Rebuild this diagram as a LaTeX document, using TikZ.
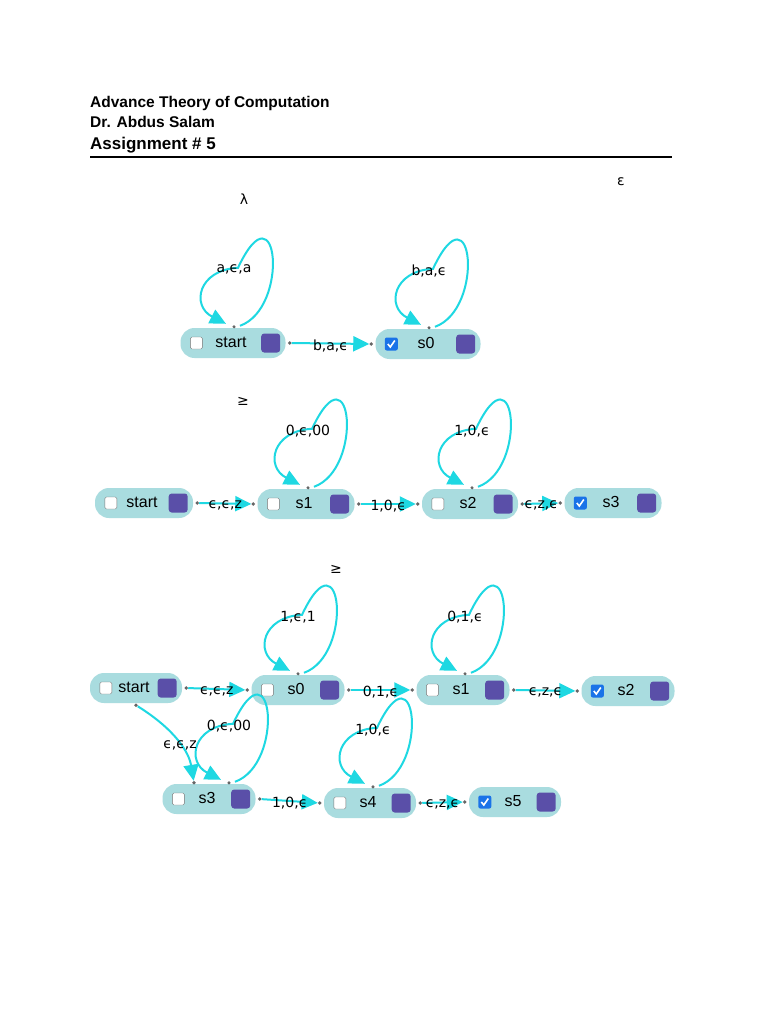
\documentclass[tikz,border=0pt]{standalone}
\usepackage{fontspec}
\setmainfont{Liberation Sans}
\newfontfamily\lblfont{DejaVu Sans}
\usetikzlibrary{arrows.meta,calc}
\definecolor{pill}{HTML}{A9DCDF}
\definecolor{purp}{HTML}{5A4FA8}
\definecolor{cy}{HTML}{1ED8E2}
\definecolor{chk}{HTML}{1A73E8}
\tikzset{
  x=1pt,y=-1pt,
  pillbox/.style={fill=pill,rounded corners=14pt,minimum height=30pt,inner sep=0pt},
  edge/.style={draw=cy,line width=2pt,-{Triangle[length=16pt,width=15pt]}},
  lbl/.style={font=\lblfont\fontsize{14}{14}\selectfont,inner sep=1pt},
  ntext/.style={font=\fontsize{16}{16}\selectfont},
  dot/.style={fill=black!60,circle,inner sep=1.3pt},
  hdr/.style={font=\bfseries\fontsize{15.5}{17}\selectfont,anchor=base west,inner sep=0pt},
}
% name, x, y, width, text, checked(0/1)
\newcommand\pnode[6]{%
  \node[pillbox,minimum width=#4] (#1) at (#2,#3) {};
  \node[ntext] (#1t) at ($(#1.center)+(-2,-1)$) {#5};
  \node[fill=purp,rounded corners=3pt,minimum size=19pt,inner sep=0pt] (#1p) at ($(#1.east)+(-15,0)$) {};
  \ifnum#6=1
    \node[fill=chk,rounded corners=2pt,minimum size=13pt,inner sep=0pt] (#1c) at ($(#1.west)+(16,0)$) {};
    \draw[white,line width=1.6pt] ($(#1c.center)+(-3.5,0)$) -- ($(#1c.center)+(-1,3)$) -- ($(#1c.center)+(3.5,-3.5)$);
  \else
    \node[fill=white,draw=black!55,rounded corners=1.5pt,minimum size=12pt,inner sep=0pt] (#1c) at ($(#1.west)+(16,0)$) {};
  \fi
}
\newcommand\loopat[3]{% node, xoff, label
  \coordinate (#1ls) at ($(#1.north)+(#2+6,-2)$);
  \coordinate (#1le) at ($(#1.north)+(#2-8,-4)$);
  \node[dot,inner sep=1.2pt] at ($(#1.north)+(#2,-1)$) {};
  \draw[edge] (#1ls) .. controls +(50,-18) and +(40,-85) .. +(-2,-58) .. controls +(-40,2) and +(-35,-18) .. (#1le);
  \node[lbl] at ($(#1.north)+(#2,-58)$) {#3};
}
\newcommand\lnk[3]{% from, to, label
  \node[dot] (#1#2a) at ($(#1.east)+(4,0)$) {};
  \node[dot] (#1#2b) at ($(#2.west)+(-4,0)$) {};
  \draw[edge] (#1#2a) -- (#1#2b) node[lbl,midway,yshift=-2pt] {#3};
}
\begin{document}
\begin{tikzpicture}
\useasboundingbox (0,0) rectangle (768,1024);
\fill[white] (0,0) rectangle (768,1024);
\node[hdr] (h1) at (90,108) {Advance Theory of Computation};
\node[hdr] (h2) at (90,128) {Dr. Abdus Salam};
\node[hdr,font=\bfseries\fontsize{17}{18}\selectfont] (h3) at (90,150) {Assignment \# 5};
\draw[line width=2pt] (90,157) -- (672,157);
\node[lbl] (e1) at (621,182) {ε};
\node[lbl] (e2) at (244,199) {λ};
\node[lbl] (e3) at (243,401) {≥};
\node[lbl] (e4) at (336,569) {≥};

% diagram 1
\pnode{Astart}{233}{343}{105}{start}{0}
\pnode{As0}{428}{344}{105}{s0}{1}
\loopat{Astart}{1}{a,ϵ,a}
\loopat{As0}{1}{b,a,ϵ}
\lnk{Astart}{As0}{b,a,ϵ}

% diagram 2
\pnode{Bstart}{144}{503}{98}{start}{0}
\pnode{Bs1}{306}{504}{97}{s1}{0}
\pnode{Bs2}{470}{504}{96}{s2}{0}
\pnode{Bs3}{613}{503}{97}{s3}{1}
\loopat{Bs1}{2}{0,ϵ,00}
\loopat{Bs2}{2}{1,0,ϵ}
\lnk{Bstart}{Bs1}{ϵ,ϵ,z}
\lnk{Bs1}{Bs2}{1,0,ϵ}
\lnk{Bs2}{Bs3}{ϵ,z,ϵ}

% diagram 3
\pnode{Cstart}{136}{688}{92}{start}{0}
\pnode{Cs0}{298}{690}{93}{s0}{0}
\pnode{Cs1}{463}{690}{93}{s1}{0}
\pnode{Cs2}{628}{691}{93}{s2}{1}
\pnode{Cs3}{209}{799}{93}{s3}{0}
\pnode{Cs4}{370}{803}{92}{s4}{0}
\pnode{Cs5}{515}{802}{92}{s5}{1}
\loopat{Cs0}{0}{1,ϵ,1}
\loopat{Cs1}{2}{0,1,ϵ}
\loopat{Cs3}{20}{0,ϵ,00}
\loopat{Cs4}{3}{1,0,ϵ}
\lnk{Cstart}{Cs0}{ϵ,ϵ,z}
\lnk{Cs0}{Cs1}{0,1,ϵ}
\lnk{Cs1}{Cs2}{ϵ,z,ϵ}
\lnk{Cs3}{Cs4}{1,0,ϵ}
\lnk{Cs4}{Cs5}{ϵ,z,ϵ}
\node[dot] (Cd1) at ($(Cstart.south)+(0,2)$) {};
\node[dot] (Cd2) at ($(Cs3.north)+(-15,-1)$) {};
\draw[edge] (Cd1) .. controls +(40,25) and +(-5,-30) .. (Cd2);
\node[lbl] (Cel) at (180,745) {ϵ,ϵ,z};
\end{tikzpicture}
\end{document}
